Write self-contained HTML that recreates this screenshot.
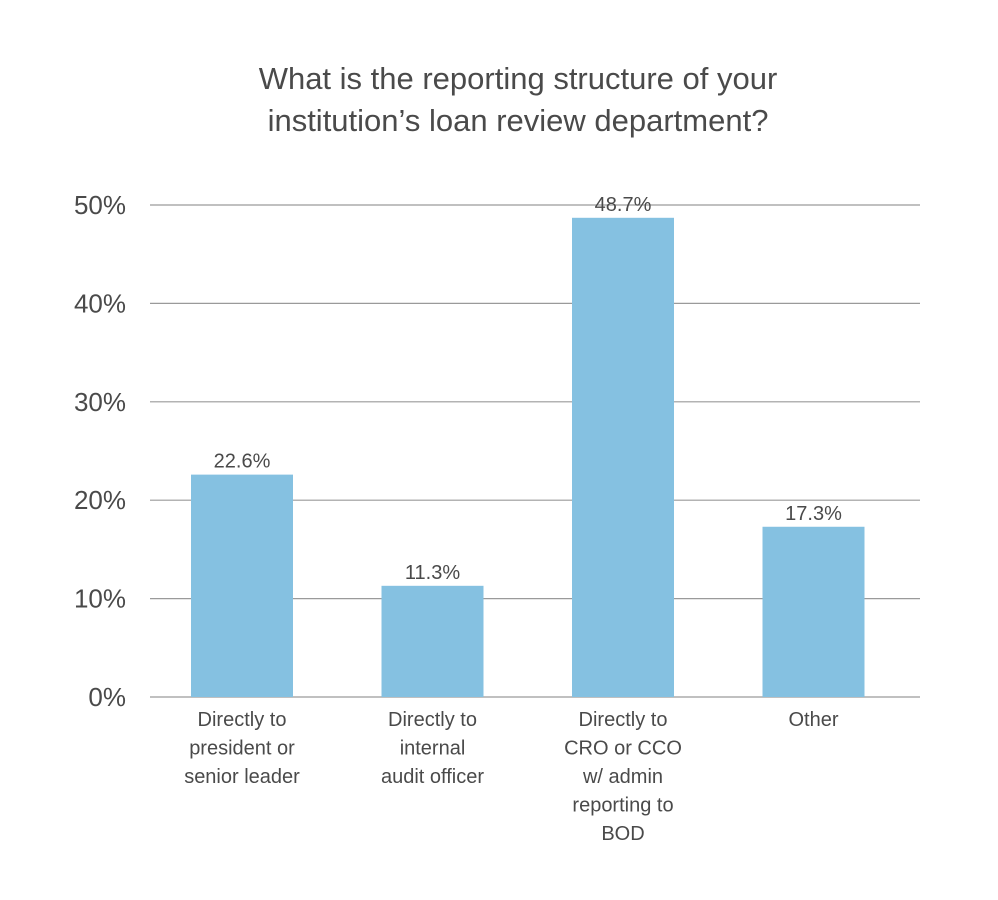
<!DOCTYPE html>
<html><head><meta charset="utf-8"><style>
body{margin:0;background:#fff;}
svg{display:block;font-family:"Liberation Sans",sans-serif;}
</style></head><body>
<svg id="chart" width="998" height="900" viewBox="0 0 998 900">
<text x="518" y="89" text-anchor="middle" font-size="31" fill="#4a4a4a">What is the reporting structure of your</text>
<text x="518" y="131" text-anchor="middle" font-size="31" fill="#4a4a4a">institution’s loan review department?</text>
<g id="grid"></g><g id="bars"></g><g id="labels"></g>
</svg>
<script>
const categories=[["Directly to","president or","senior leader"],["Directly to","internal","audit officer"],["Directly to","CRO or CCO","w/ admin","reporting to","BOD"],["Other"]];
const values=[22.6,11.3,48.7,17.3];
const valueLabels=["22.6%","11.3%","48.7%","17.3%"];
const ticks=[0,10,20,30,40,50];
const tickLabels=["0%","10%","20%","30%","40%","50%"];
const NS="http://www.w3.org/2000/svg";
const x0=150,x1=920,y0=697,y50=205;
const y=v=>y0-(v/50)*(y0-y50);
const band=190.5;
const cx=i=>242+i*band;
function mk(t,a,p,txt){const e=document.createElementNS(NS,t);for(const k in a)e.setAttribute(k,a[k]);if(txt!==undefined)e.textContent=txt;p.appendChild(e);return e;}
const g=document.getElementById('grid'),b=document.getElementById('bars'),l=document.getElementById('labels');
ticks.forEach((t,i)=>{
 const ln=mk('line',{x1:x0,x2:x1,y1:y(t),y2:y(t),stroke:'#9a9a9a','stroke-width':1.2},g);
 
 
 const tx=mk('text',{x:126,y:y(t)+9,'text-anchor':'end','font-size':26,fill:'#4a4a4a'},g,tickLabels[i]);
 
 
});
values.forEach((v,i)=>{
 const r=mk('rect',{x:cx(i)-51,y:y(v),width:102,height:y0-y(v),fill:'#85c1e1'},b);
 
 
 const t=mk('text',{x:cx(i),y:y(v)-7,'text-anchor':'middle','font-size':20,fill:'#4a4a4a'},l,valueLabels[i]);
 
 
 categories[i].forEach((s,j)=>{
  const c=mk('text',{x:cx(i),y:726+j*28.5,'text-anchor':'middle','font-size':20,fill:'#4a4a4a'},l,s);
  
  
 });
});
</script>
</body></html>
